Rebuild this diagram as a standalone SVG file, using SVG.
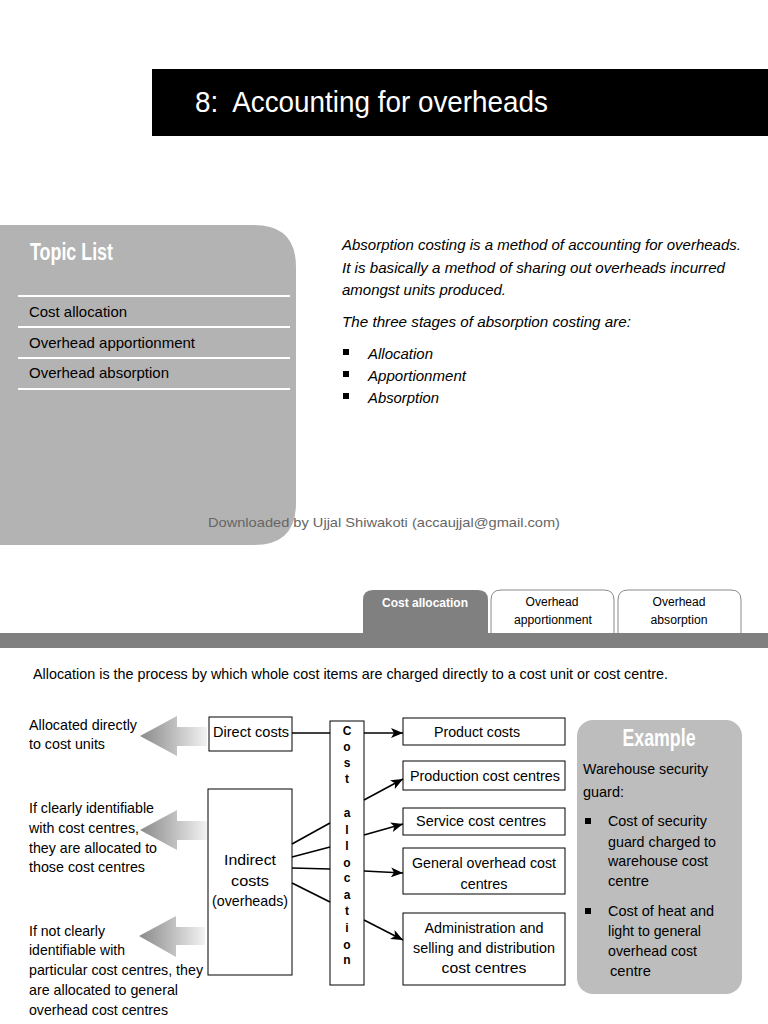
<svg xmlns="http://www.w3.org/2000/svg" width="768" height="1024" viewBox="0 0 768 1024">
<style>
text{font-family:"Liberation Sans",Arial,sans-serif;fill:#000}
.t14{font-size:15px}
.it{font-size:15.5px;font-style:italic}
.w{fill:#fff}
.bx{fill:#fff;stroke:#000;stroke-width:1}
.ln{stroke:#000;stroke-width:1.6;fill:none}
.ar{stroke:#000;stroke-width:1.6;fill:none;marker-end:url(#ah)}
.bar{font-size:12px;font-weight:bold}
.c{text-anchor:middle}
</style>
<defs>
<marker id="ah" viewBox="0 0 12 10" refX="12" refY="5" markerWidth="12" markerHeight="10" markerUnits="userSpaceOnUse" orient="auto">
<path d="M0,0 L12,5 L0,10 L3,5 Z" fill="#000"/>
</marker>
<linearGradient id="gar" x1="0" y1="0" x2="1" y2="0">
<stop offset="0" stop-color="#8a8a8a"/>
<stop offset="0.45" stop-color="#b8b8b8"/>
<stop offset="1" stop-color="#f2f2f2"/>
</linearGradient>
</defs>
<rect width="768" height="1024" fill="#fff"/>

<g id="header">
<rect x="152" y="69" width="616" height="67" fill="#000"/>
<text x="195" y="112" class="w" style="font-size:29px" xml:space="preserve" textLength="353" lengthAdjust="spacingAndGlyphs">8:  Accounting for overheads</text>
</g>

<g id="topic-list">
<path d="M0,225 H254 Q296,225 296,267 V503 Q296,545 254,545 H0 Z" fill="#b3b3b3"/>
<text x="30" y="260" class="w" style="font-size:24px;font-weight:bold" textLength="83" lengthAdjust="spacingAndGlyphs">Topic List</text>
<g stroke="#fff" stroke-width="2">
<line x1="18" y1="296" x2="290" y2="296"/>
<line x1="18" y1="327" x2="290" y2="327"/>
<line x1="18" y1="358" x2="290" y2="358"/>
<line x1="18" y1="389" x2="290" y2="389"/>
</g>
<text x="29" y="317" class="t14" textLength="98" lengthAdjust="spacingAndGlyphs">Cost allocation</text>
<text x="29" y="348" class="t14" textLength="166" lengthAdjust="spacingAndGlyphs">Overhead apportionment</text>
<text x="29" y="378" class="t14" textLength="140" lengthAdjust="spacingAndGlyphs">Overhead absorption</text>
</g>

<g id="intro">
<text x="342" y="250" class="it" textLength="399" lengthAdjust="spacingAndGlyphs">Absorption costing is a method of accounting for overheads.</text>
<text x="342" y="273" class="it" textLength="383" lengthAdjust="spacingAndGlyphs">It is basically a method of sharing out overheads incurred</text>
<text x="342" y="295" class="it" textLength="164" lengthAdjust="spacingAndGlyphs">amongst units produced.</text>
<text x="342" y="327" class="it" textLength="289" lengthAdjust="spacingAndGlyphs">The three stages of absorption costing are:</text>
<rect x="343" y="349" width="6" height="6" fill="#000"/>
<rect x="343" y="371" width="6" height="6" fill="#000"/>
<rect x="343" y="393" width="6" height="6" fill="#000"/>
<text x="368" y="359" class="it" textLength="65" lengthAdjust="spacingAndGlyphs">Allocation</text>
<text x="368" y="381" class="it" textLength="98" lengthAdjust="spacingAndGlyphs">Apportionment</text>
<text x="368" y="403" class="it" textLength="71" lengthAdjust="spacingAndGlyphs">Absorption</text>
</g>

<text x="208" y="527" style="font-size:13px;fill:#666" textLength="352" lengthAdjust="spacingAndGlyphs">Downloaded by Ujjal Shiwakoti (accaujjal@gmail.com)</text>

<g id="tabs">
<rect x="0" y="633" width="768" height="15" fill="#808080"/>
<path d="M363,633 V600 Q363,590 373,590 H478 Q488,590 488,600 V633 Z" fill="#808080"/>
<path d="M491,633 V600 Q491,590 501,590 H604 Q614,590 614,600 V633" fill="#fff" stroke="#8a8a8a" stroke-width="1"/>
<path d="M618,633 V600 Q618,590 628,590 H731 Q741,590 741,600 V633" fill="#fff" stroke="#8a8a8a" stroke-width="1"/>
<text x="425" y="607" class="w c" style="font-size:12.5px;font-weight:bold" textLength="86" lengthAdjust="spacingAndGlyphs">Cost allocation</text>
<text x="552" y="606" class="c" style="font-size:12.5px" textLength="53" lengthAdjust="spacingAndGlyphs">Overhead</text>
<text x="553" y="624" class="c" style="font-size:12.5px" textLength="78" lengthAdjust="spacingAndGlyphs">apportionment</text>
<text x="679" y="606" class="c" style="font-size:12.5px" textLength="53" lengthAdjust="spacingAndGlyphs">Overhead</text>
<text x="679" y="624" class="c" style="font-size:12.5px" textLength="57" lengthAdjust="spacingAndGlyphs">absorption</text>
</g>

<text x="33" y="679" class="t14" textLength="635" lengthAdjust="spacingAndGlyphs">Allocation is the process by which whole cost items are charged directly to a cost unit or cost centre.</text>

<g id="left-arrows">
<path d="M140,736 L177,716 L177,727 L207,727 L207,746 L177,746 L177,756 Z" fill="url(#gar)"/>
<path d="M140,830 L177,810 L177,821 L207,821 L207,840 L177,840 L177,850 Z" fill="url(#gar)"/>
<path d="M139,936 L176,916 L176,927 L205,927 L205,945 L176,945 L176,957 Z" fill="url(#gar)"/>
</g>

<g id="left-notes" class="t14">
<text x="29" y="730" textLength="108" lengthAdjust="spacingAndGlyphs">Allocated directly</text>
<text x="29" y="749" textLength="76" lengthAdjust="spacingAndGlyphs">to cost units</text>
<text x="29" y="813" textLength="125" lengthAdjust="spacingAndGlyphs">If clearly identifiable</text>
<text x="29" y="833" textLength="110" lengthAdjust="spacingAndGlyphs">with cost centres,</text>
<text x="29" y="853" textLength="128" lengthAdjust="spacingAndGlyphs">they are allocated to</text>
<text x="29" y="872" textLength="116" lengthAdjust="spacingAndGlyphs">those cost centres</text>
<text x="29" y="936" textLength="76" lengthAdjust="spacingAndGlyphs">If not clearly</text>
<text x="29" y="955" textLength="96" lengthAdjust="spacingAndGlyphs">identifiable with</text>
<text x="29" y="975" textLength="174" lengthAdjust="spacingAndGlyphs">particular cost centres, they</text>
<text x="29" y="995" textLength="149" lengthAdjust="spacingAndGlyphs">are allocated to general</text>
<text x="29" y="1015" textLength="139" lengthAdjust="spacingAndGlyphs">overhead cost centres</text>
</g>

<g id="direct-costs">
<rect x="209" y="717" width="83" height="34" class="bx"/>
<text x="251" y="737" class="t14 c" textLength="76" lengthAdjust="spacingAndGlyphs">Direct costs</text>
</g>

<g id="indirect-costs">
<rect x="208" y="789" width="84" height="186" class="bx"/>
<text x="250" y="865" class="t14 c" textLength="52" lengthAdjust="spacingAndGlyphs">Indirect</text>
<text x="250" y="886" class="t14 c" textLength="38" lengthAdjust="spacingAndGlyphs">costs</text>
<text x="250" y="906" class="t14 c" textLength="76" lengthAdjust="spacingAndGlyphs">(overheads)</text>
</g>

<g id="cost-allocation">
<rect x="330" y="721" width="34" height="264" class="bx"/>
<g class="bar c">
<text x="347" y="735">C</text>
<text x="347" y="751">o</text>
<text x="347" y="767">s</text>
<text x="347" y="783">t</text>
<text x="347" y="817">a</text>
<text x="347" y="834">l</text>
<text x="347" y="850">l</text>
<text x="347" y="867">o</text>
<text x="347" y="882">c</text>
<text x="347" y="899">a</text>
<text x="347" y="915">t</text>
<text x="347" y="932">i</text>
<text x="347" y="949">o</text>
<text x="347" y="964">n</text>
</g>
</g>

<g id="product-costs">
<rect x="403" y="718" width="162" height="27" class="bx"/>
<text x="477" y="737" class="t14 c" textLength="86" lengthAdjust="spacingAndGlyphs">Product costs</text>
</g>
<g id="production-cost-centres">
<rect x="403" y="761" width="162" height="29" class="bx"/>
<text x="485" y="781" class="t14 c" textLength="150" lengthAdjust="spacingAndGlyphs">Production cost centres</text>
</g>
<g id="service-cost-centres">
<rect x="403" y="808" width="162" height="27" class="bx"/>
<text x="481" y="826" class="t14 c" textLength="130" lengthAdjust="spacingAndGlyphs">Service cost centres</text>
</g>
<g id="general-overhead-cost-centres">
<rect x="403" y="848" width="162" height="46" class="bx"/>
<text x="484" y="868" class="t14 c" textLength="144" lengthAdjust="spacingAndGlyphs">General overhead cost</text>
<text x="484" y="889" class="t14 c" textLength="47" lengthAdjust="spacingAndGlyphs">centres</text>
</g>
<g id="administration-cost-centres">
<rect x="403" y="913" width="162" height="72" class="bx"/>
<text x="484" y="933" class="t14 c" textLength="119" lengthAdjust="spacingAndGlyphs">Administration and</text>
<text x="484" y="953" class="t14 c" textLength="142" lengthAdjust="spacingAndGlyphs">selling and distribution</text>
<text x="484" y="973" class="t14 c" textLength="85" lengthAdjust="spacingAndGlyphs">cost centres</text>
</g>

<g id="connectors">
<line x1="292" y1="733" x2="330" y2="733" class="ln"/>
<line x1="292" y1="844" x2="330" y2="823" class="ln"/>
<line x1="292" y1="857" x2="330" y2="847" class="ln"/>
<line x1="292" y1="868" x2="330" y2="869" class="ln"/>
<line x1="292" y1="883" x2="330" y2="902" class="ln"/>
<line x1="364" y1="733" x2="403" y2="733" class="ar"/>
<line x1="364" y1="800" x2="403" y2="779" class="ar"/>
<line x1="364" y1="835" x2="403" y2="824" class="ar"/>
<line x1="364" y1="871" x2="403" y2="873" class="ar"/>
<line x1="364" y1="920" x2="403" y2="940" class="ar"/>
</g>

<g id="example">
<rect x="577" y="720" width="165" height="274" rx="16" fill="#bdbdbd"/>
<text x="659" y="746" class="w c" style="font-size:24px;font-weight:bold" textLength="73" lengthAdjust="spacingAndGlyphs">Example</text>
<text x="583" y="774" class="t14" textLength="125" lengthAdjust="spacingAndGlyphs">Warehouse security</text>
<text x="583" y="797" class="t14" textLength="41" lengthAdjust="spacingAndGlyphs">guard:</text>
<rect x="585" y="818" width="6" height="6" fill="#000"/>
<text x="608" y="826" class="t14" textLength="99" lengthAdjust="spacingAndGlyphs">Cost of security</text>
<text x="608" y="847" class="t14" textLength="108" lengthAdjust="spacingAndGlyphs">guard charged to</text>
<text x="608" y="866" class="t14" textLength="100" lengthAdjust="spacingAndGlyphs">warehouse cost</text>
<text x="608" y="886" class="t14" textLength="41" lengthAdjust="spacingAndGlyphs">centre</text>
<rect x="585" y="908" width="6" height="6" fill="#000"/>
<text x="608" y="916" class="t14" textLength="106" lengthAdjust="spacingAndGlyphs">Cost of heat and</text>
<text x="608" y="936" class="t14" textLength="93" lengthAdjust="spacingAndGlyphs">light to general</text>
<text x="608" y="956" class="t14" textLength="89" lengthAdjust="spacingAndGlyphs">overhead cost</text>
<text x="610" y="976" class="t14" textLength="41" lengthAdjust="spacingAndGlyphs">centre</text>
</g>
</svg>
